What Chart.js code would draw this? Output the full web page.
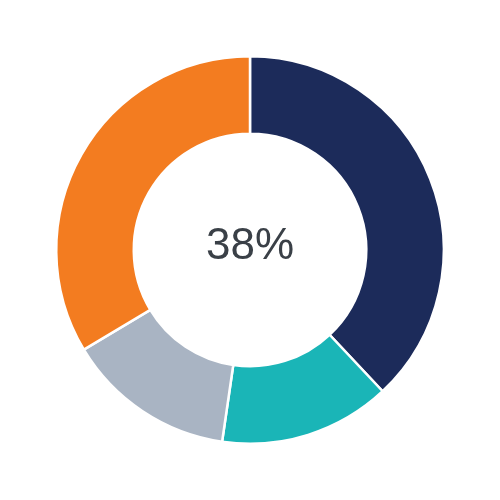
<!DOCTYPE html>
<html>
<head>
<meta charset="utf-8">
<script src="https://cdn.jsdelivr.net/npm/chart.js@4"></script>
<style>
html,body{margin:0;padding:0;background:#fff;}
#wrap{width:500px;height:500px;}
</style>
</head>
<body>
<div id="wrap"><canvas id="c"></canvas></div>
<script>
const labels = ["A", "B", "C", "D"];
const values = [38, 14.3, 14.1, 33.6];
const colors = ["#1c2b5a", "#1ab5b7", "#a9b4c3", "#f37c20"];
const centerText = "38%";

const centerPlugin = {
  id: 'centerText',
  afterDraw(chart) {
    const {ctx} = chart;
    const meta = chart.getDatasetMeta(0);
    const arc = meta.data[0];
    ctx.save();
    ctx.font = '44px "Liberation Sans", Arial, sans-serif';
    ctx.fillStyle = '#3a4047';
    ctx.textAlign = 'center';
    ctx.textBaseline = 'middle';
    ctx.fillText(centerText, arc.x, arc.y - 3);
    ctx.restore();
  }
};

new Chart(document.getElementById('c'), {
  type: 'doughnut',
  data: {
    labels: labels,
    datasets: [{
      data: values,
      backgroundColor: colors,
      borderColor: '#ffffff',
      borderWidth: 2.5
    }]
  },
  options: {
    responsive: true,
    maintainAspectRatio: false,
    animation: false,
    cutout: '60%',
    layout: { padding: 55 },
    plugins: { legend: { display: false }, tooltip: { enabled: false } }
  },
  plugins: [centerPlugin]
});
</script>
</body>
</html>
